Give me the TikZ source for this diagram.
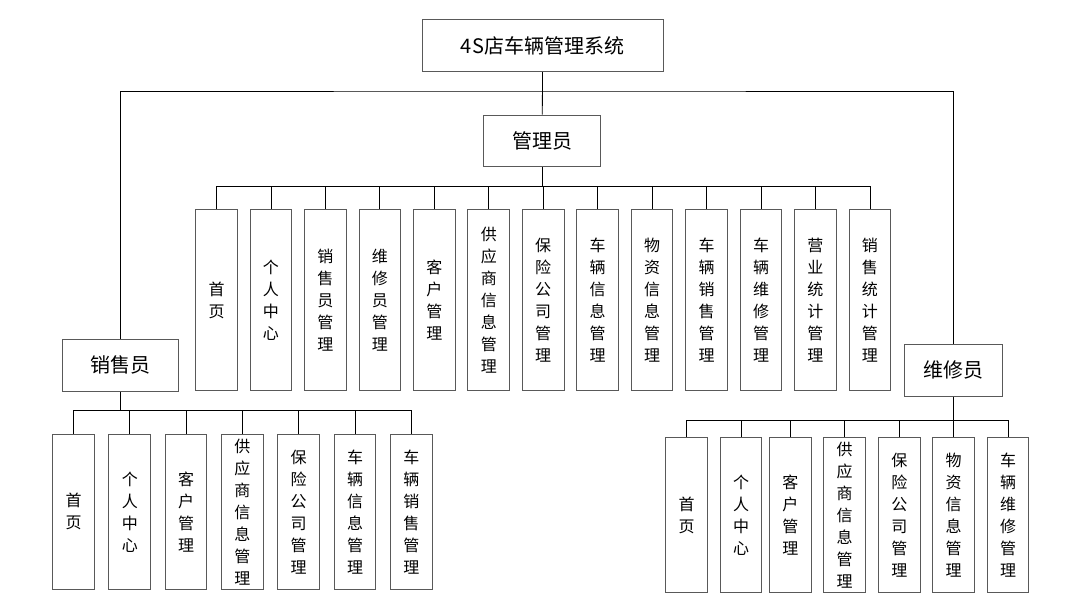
\documentclass[tikz,border=0pt]{standalone}
\usepackage{fontspec}
\setmainfont{Noto Sans CJK SC}
\usetikzlibrary{positioning}

\tikzset{
  box/.style={draw=black!65, line width=1pt, fill=white, inner sep=0pt},
  rolebox/.style={box, minimum height=51.7pt, font=\fontsize{20}{24}\selectfont},
  leafbox/.style={box, minimum width=41.7pt, align=center, font=\fontsize{16}{22}\selectfont},
  link/.style={draw=black, line width=0.8pt},
}

\begin{document}
\begin{tikzpicture}[x=1pt, y=-1pt]
    \useasboundingbox (0,0) rectangle (1070,609);

    % Draw the system and its roles
    \node[rolebox, minimum width=241pt, minimum height=52.4pt] (sys) at (542.5,45.5) {4S店车辆管理系统};
    \node[rolebox, minimum width=116.7pt] (admin) at (542.3,141) {管理员};
    \node[rolebox, minimum width=116pt] (sales) at (120.3,365.2) {销售员};
    \node[rolebox, minimum width=97.7pt] (repair) at (953.8,370.2) {维修员};

    \coordinate (sysbus) at (542.5,91);
    \draw[link] (sys.south) -- (admin.north);
    \draw[link] (sales.north) |- (sysbus) -| (repair.north);

    % Admin modules
    \coordinate (abus) at (542.3,186);
    \draw[link, line width=1.3pt] (admin.south) -- (abus);
    \foreach \i/\txt in {0/{首\\页}, 1/{个\\人\\中\\心}, 2/{销\\售\\员\\管\\理},
        3/{维\\修\\员\\管\\理}, 4/{客\\户\\管\\理}, 5/{供\\应\\商\\信\\息\\管\\理},
        6/{保\\险\\公\\司\\管\\理}, 7/{车\\辆\\信\\息\\管\\理}, 8/{物\\资\\信\\息\\管\\理},
        9/{车\\辆\\销\\售\\管\\理}, 10/{车\\辆\\维\\修\\管\\理}, 11/{营\\业\\统\\计\\管\\理},
        12/{销\\售\\统\\计\\管\\理}}
    {
        \node[leafbox, minimum height=180.7pt] (a\i) at (216.5+54.45*\i,300.3) {\txt};
        \draw[link] (abus) -| (a\i.north);
    }

    % Sales modules
    \coordinate (sbus) at (120.3,410.3);
    \draw[link] (sales.south) -- (sbus);
    \foreach \i/\txt in {0/{首\\页}, 1/{个\\人\\中\\心}, 2/{客\\户\\管\\理},
        3/{供\\应\\商\\信\\息\\管\\理}, 4/{保\\险\\公\\司\\管\\理},
        5/{车\\辆\\信\\息\\管\\理}, 6/{车\\辆\\销\\售\\管\\理}}
    {
        \node[leafbox, minimum height=155pt] (s\i) at (73.5+56.3*\i,511.8) {\txt};
        \draw[link] (sbus) -| (s\i.north);
    }

    % Repair modules
    \coordinate (rbus) at (953.8,420);
    \draw[link, line width=1.3pt] (repair.south) -- (rbus);
    \foreach \i/\x/\txt in {0/686.5/{首\\页}, 1/741/{个\\人\\中\\心}, 2/790.3/{客\\户\\管\\理},
        3/844.7/{供\\应\\商\\信\\息\\管\\理}, 4/899.3/{保\\险\\公\\司\\管\\理},
        5/953.7/{物\\资\\信\\息\\管\\理}, 6/1008/{车\\辆\\维\\修\\管\\理}}
    {
        \node[leafbox, minimum height=155pt] (r\i) at (\x,515.2) {\txt};
        \draw[link] (rbus) -| (r\i.north);
    }
\end{tikzpicture}
\end{document}
